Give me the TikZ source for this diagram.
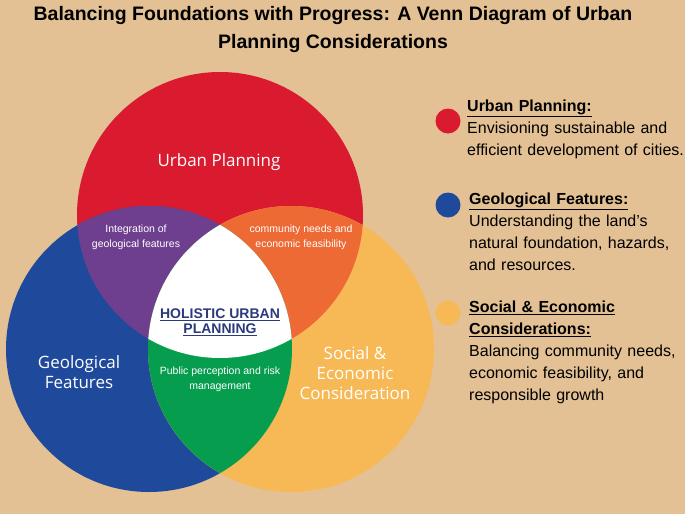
\documentclass[tikz,border=0pt]{standalone}
\usepackage{fontspec}
\setmainfont{Liberation Sans}
\newfontfamily\lightfont{Open Sans}
\definecolor{bgtan}{HTML}{E3C194}
\definecolor{upred}{HTML}{D91A2F}
\definecolor{geoblue}{HTML}{1F4A9C}
\definecolor{socyellow}{HTML}{F7B955}
\definecolor{mixpurple}{HTML}{6F3F8F}
\definecolor{mixorange}{HTML}{EE6A35}
\definecolor{mixgreen}{HTML}{069E4E}
\definecolor{navytext}{HTML}{2B3A7A}
\begin{document}
\begin{tikzpicture}[x=1pt,y=-1pt,
  bigname/.style={text=white,font=\lightfont\fontsize{17}{20}\selectfont,align=center},
  mixname/.style={text=white,font=\fontsize{10.5}{15}\selectfont,align=center},
  legdot/.style={circle,minimum size=25pt,inner sep=0pt},
  legtext/.style={anchor=north west,align=left,font=\fontsize{16}{22}\selectfont,text width=240pt,inner sep=0pt}]
  \fill[bgtan] (0,0) rectangle (685,514);
  \useasboundingbox (0,0) rectangle (685,514);
  % the three sets
  \def\red{(220,215) circle (143)}
  \def\blue{(149,349) circle (143)}
  \def\yel{(291,349) circle (143)}
  \fill[upred] \red;
  \fill[geoblue] \blue;
  \fill[socyellow] \yel;
  \begin{scope}\clip \red; \fill[mixpurple] \blue; \fill[mixorange] \yel;\end{scope}
  \begin{scope}\clip \blue; \fill[mixgreen] \yel;\end{scope}
  \begin{scope}\clip \red; \clip \blue; \fill[white] \yel;\end{scope}
  % labels
  \node[font=\bfseries\fontsize{19.5}{28}\selectfont,align=center] (title) at (333,30)
    {Balancing Foundations with Progress: A Venn Diagram of Urban\\Planning Considerations};
  \node[bigname] (urban) at (219,162) {Urban Planning};
  \node[bigname] (geo) at (79,372) {Geological\\Features};
  \node[bigname] (soc) at (355,373) {Social \&\\Economic\\Consideration};
  \node[mixname] (ug) at (136,237) {Integration of\\geological features};
  \node[mixname] (us) at (301,237) {community needs and\\economic feasibility};
  \node[mixname] (gs) at (220,379) {Public perception and risk\\management};
  \node[font=\bfseries\fontsize{14}{16}\selectfont,text=navytext,align=center] (core) at (220,322)
    {\underline{HOLISTIC URBAN}\\[-1pt]\underline{PLANNING}};
  % legend
  \node[legdot,fill=upred] (dotu) at (448,121) {};
  \node[legdot,fill=geoblue] (dotg) at (448,205) {};
  \node[legdot,fill=socyellow] (dots) at (448,313) {};
  \node[legtext] (legu) at (467,100) {\textbf{\underline{Urban Planning:}}\\Envisioning sustainable and\\efficient development of cities.};
  \node[legtext] (legg) at (469,193) {\textbf{\underline{Geological Features:}}\\Understanding the land's\\natural foundation, hazards,\\and resources.};
  \node[legtext] (legs) at (469,301) {\textbf{\underline{Social \& Economic}}\\\textbf{\underline{Considerations:}}\\Balancing community needs,\\economic feasibility, and\\responsible growth};
\end{tikzpicture}
\end{document}
